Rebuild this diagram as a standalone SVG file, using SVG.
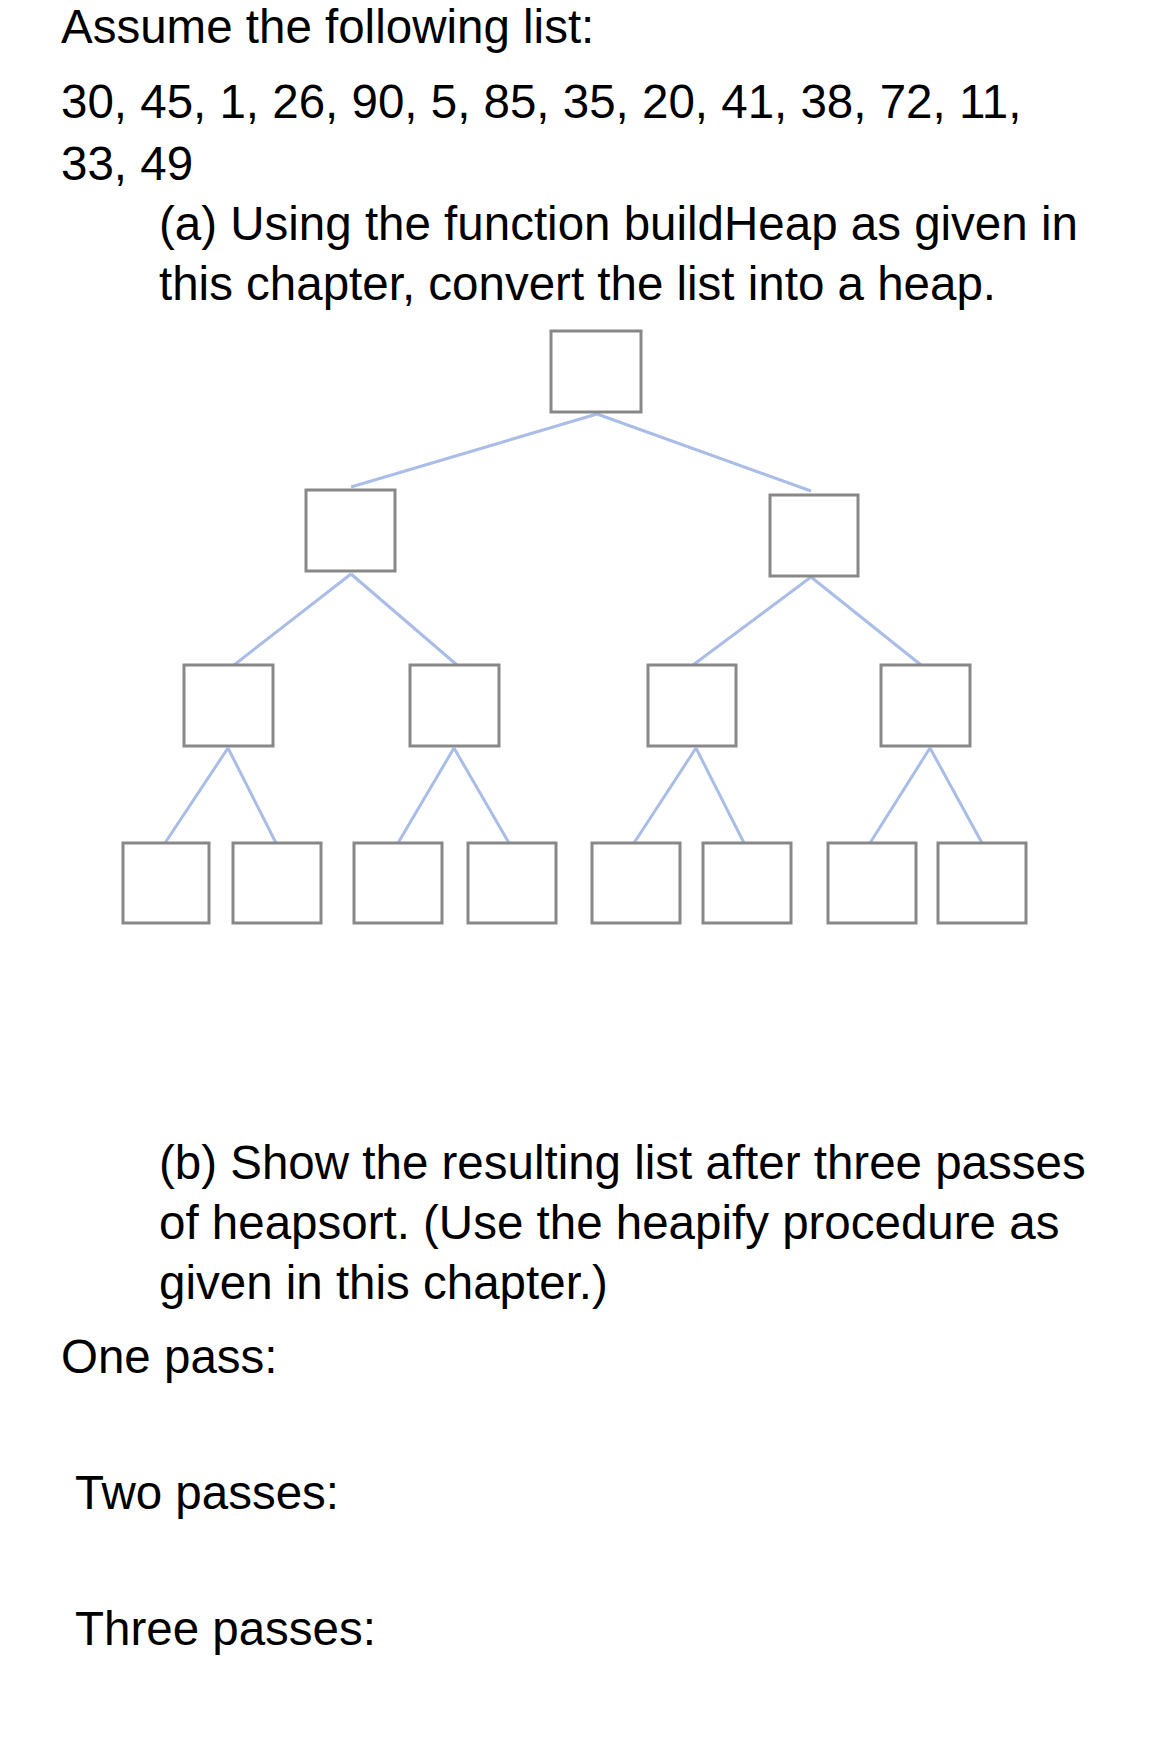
<svg xmlns="http://www.w3.org/2000/svg" width="1170" height="1743" viewBox="0 0 1170 1743">
<style>
text{font-family:"Liberation Sans",Arial,sans-serif;font-size:47.5px;fill:#000}
.n{fill:#fff;stroke:#888;stroke-width:3}
.e{stroke:#a9bde6;stroke-width:3;fill:none}
</style>
<rect width="1170" height="1743" fill="#fff"/>
<text x="61" y="43">Assume the following list:</text>
<text x="61" y="118">30, 45, 1, 26, 90, 5, 85, 35, 20, 41, 38, 72, 11,</text>
<text x="61" y="180">33, 49</text>
<text x="159" y="240">(a) Using the function buildHeap as given in</text>
<text x="159" y="300">this chapter, convert the list into a heap.</text>
<g id="connectors">
<path class="e" d="M597 414L351 487M597 414L811 491M351 574L234 665M351 574L457 665M811 577L693 665M811 577L921 665M228 748L165 843M228 748L276 843M454 748L398 843M454 748L509 843M696 748L634 843M696 748L744 843M930 748L870 843M930 748L982 843"/>
</g>
<g id="n1"><rect class="n" x="551" y="331" width="90" height="81"/></g>
<g id="n2"><rect class="n" x="306" y="490" width="89" height="81"/></g>
<g id="n3"><rect class="n" x="770" y="495" width="88" height="81"/></g>
<g id="n4"><rect class="n" x="184" y="665" width="89" height="81"/></g>
<g id="n5"><rect class="n" x="410" y="665" width="89" height="81"/></g>
<g id="n6"><rect class="n" x="648" y="665" width="88" height="81"/></g>
<g id="n7"><rect class="n" x="881" y="665" width="89" height="81"/></g>
<g id="n8"><rect class="n" x="123" y="843" width="86" height="80"/></g>
<g id="n9"><rect class="n" x="233" y="843" width="88" height="80"/></g>
<g id="n10"><rect class="n" x="354" y="843" width="88" height="80"/></g>
<g id="n11"><rect class="n" x="468" y="843" width="88" height="80"/></g>
<g id="n12"><rect class="n" x="592" y="843" width="88" height="80"/></g>
<g id="n13"><rect class="n" x="703" y="843" width="88" height="80"/></g>
<g id="n14"><rect class="n" x="828" y="843" width="88" height="80"/></g>
<g id="n15"><rect class="n" x="938" y="843" width="88" height="80"/></g>
<text x="159" y="1179">(b) Show the resulting list after three passes</text>
<text x="159" y="1239">of heapsort. (Use the heapify procedure as</text>
<text x="159" y="1299">given in this chapter.)</text>
<text x="61" y="1373">One pass:</text>
<text x="75" y="1509">Two passes:</text>
<text x="75" y="1645">Three passes:</text>
</svg>
